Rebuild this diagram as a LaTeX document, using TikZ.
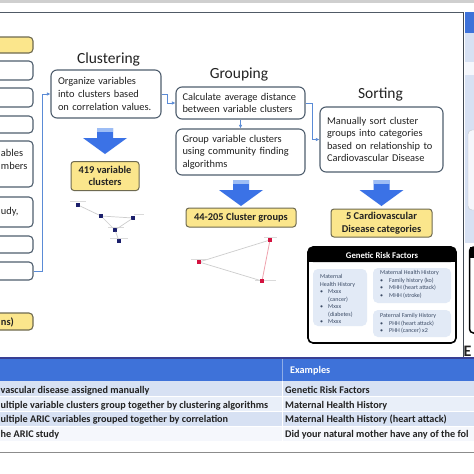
\documentclass[tikz,border=0pt]{standalone}
\usepackage{fontspec}
\setmainfont{Carlito}
\usetikzlibrary{arrows.meta}
\definecolor{boxline}{HTML}{4F5E6E}
\definecolor{yel}{HTML}{FBE68C}
\definecolor{yelline}{HTML}{6E6A50}
\definecolor{connc}{HTML}{5A8BD6}
\definecolor{barrow}{HTML}{3B72E6}
\definecolor{barrowtop}{HTML}{9DBDF5}
\definecolor{hdr}{HTML}{3E72D9}
\definecolor{hdrdiv}{HTML}{8FADE6}
\definecolor{rowa}{HTML}{D7E1F3}
\definecolor{rowb}{HTML}{E9EFF9}
\definecolor{rowc}{HTML}{F5F7FC}
\definecolor{innerb}{HTML}{E2EAF6}
\definecolor{innertext}{HTML}{3A4A64}
\definecolor{netline}{HTML}{CDCDCD}
\definecolor{netlabel}{HTML}{DADADA}
\definecolor{navy}{HTML}{1B1F6B}
\definecolor{reddot}{HTML}{D3123F}
\definecolor{pinkline}{HTML}{EFA3AE}
\definecolor{framec}{HTML}{505A66}
\definecolor{topgray}{HTML}{CFCFCF}
\definecolor{txt}{HTML}{222222}
\newcommand\bodyfont{\fontsize{10.4}{12.6}\selectfont}
\newcommand\ybfont{\bfseries\fontsize{10.4}{12.6}\selectfont}
\newcommand\titlefont{\fontsize{15.5}{18}\selectfont}
\newcommand\tabfont{\bfseries\fontsize{10.2}{12}\selectfont}
\newcommand\tinyfont{\fontsize{6}{7.5}\selectfont}
\begin{document}
\begin{tikzpicture}[x=1pt,y=-1pt,
  box/.style={draw=boxline,line width=1.1pt,rounded corners=6pt,fill=white,inner ysep=0pt,align=left,font=\bodyfont,text=txt},
  lbox/.style={draw=boxline,line width=1.1pt,rounded corners=4pt,fill=white,inner sep=0pt,minimum width=63pt},
  ybox/.style={draw=yelline,line width=1pt,rounded corners=3pt,fill=yel,align=center,inner sep=0pt,font=\ybfont,text=txt},
  conn/.style={draw=connc,line width=0.9pt,-{Latex[length=3.5pt,width=3.5pt]}},
  title/.style={font=\titlefont,anchor=base,inner sep=0pt,text=txt},
  cut/.style={font=\bodyfont,anchor=base west,inner sep=0pt,text=txt},
  tabtxt/.style={font=\tabfont,anchor=base west,inner sep=0pt,text=txt},
  navydot/.style={rectangle,fill=navy,minimum size=3.3pt,inner sep=0pt},
  reddotst/.style={rectangle,fill=reddot,minimum size=3.8pt,inner sep=0pt},
  netedge/.style={draw=netline,line width=0.7pt},
  netlab/.style={draw=netlabel,line width=0.8pt},
  innertxt/.style={font=\tinyfont,text=innertext,align=left,anchor=north west,inner sep=0pt},
  bigarr/.pic={
    \fill[barrow] (-8,0) -- (8,0) -- (8,10) -- (22,10) -- (0,26) -- (-22,10) -- (-8,10) -- cycle;
    \fill[barrowtop] (-8,0) rectangle (8,3.5);
  }]
\useasboundingbox (0,0) rectangle (474,474);
\clip (0,0) rectangle (474,474);
\fill[white] (0,0) rectangle (474,474);
% top band and frame
\fill[topgray] (0,0) rectangle (474,3);
\draw[framec,line width=1pt] (0,12) -- (463,12);

% left column boxes (cropped)
\node[lbox,fill=yel,draw=yelline,minimum height=16pt] (l1) at (1.5,45) {};
\node[lbox,minimum height=19pt] (l2) at (1.5,70.5) {};
\node[lbox,minimum height=19pt] (l3) at (1.5,97.5) {};
\node[lbox,minimum height=17pt] (l4) at (1.5,124.5) {};
\node[lbox,minimum height=46pt] (l5) at (1.5,164) {};
\node[lbox,minimum height=30pt] (l6) at (1.5,212) {};
\node[lbox,minimum height=17pt] (l7) at (1.5,244.5) {};
\node[lbox,minimum height=18pt] (l8) at (1.5,271) {};
\node[lbox,fill=yel,draw=yelline,minimum height=17pt] (l9) at (1.5,321.5) {};
\node[cut] (t5a) at (0.8,156) {ables};
\node[cut] (t5b) at (0.8,169) {mbers};
\node[cut] (t6) at (0.8,214) {udy,};
\node[cut,font=\ybfont] (t9) at (0.8,325.5) {ns)};

% titles
\node[title] (tclus) at (108.5,63) {Clustering};
\node[title] (tgroup) at (239,78) {Grouping};
\node[title] (tsort) at (380.5,98) {Sorting};

% process boxes
\node[box,text width=96pt,inner xsep=7pt,minimum height=48pt] (clus) at (106,94)
  {Organize variables\\into clusters based\\on correlation values.};
\node[box,text width=116pt,inner xsep=6.5pt,minimum height=32pt] (calc) at (240.5,103)
  {Calculate average distance\\between variable clusters};
\node[box,text width=116pt,inner xsep=6.5pt,minimum height=46pt] (group) at (240.5,152)
  {Group variable clusters\\using community finding\\algorithms};
\node[box,text width=109pt,inner xsep=7pt,minimum height=65pt] (sort) at (381.5,139.5)
  {Manually sort cluster\\groups into categories\\based on relationship to\\Cardiovascular Disease};

% connectors
\draw[conn] (l8.east) -- ++(9,0) |- (clus.west);
\draw[conn] (clus.east) -- ++(6,0) |- (calc.west);
\draw[conn] (calc.south) -- (group.north);
\draw[conn] (calc.east) -- ++(7,0) |- (sort.west);

% big arrows
\pic at (105,128) {bigarr};
\pic at (241,180) {bigarr};
\pic at (381.5,180) {bigarr};

% result boxes
\node[ybox,minimum width=68pt,minimum height=29pt] (y1) at (105,176) {419 variable\\clusters};
\node[ybox,minimum width=110pt,minimum height=19pt] (y2) at (241,217.5) {44-205 Cluster groups};
\node[ybox,minimum width=101pt,minimum height=28pt] (y3) at (381.5,223) {5 Cardiovascular\\Disease categories};

% clustering network
\draw[netlab] (70,201) -- (86,201);
\draw[netlab] (134,214.5) -- (144,214.5);
\draw[netlab] (108,227) -- (124,227);
\draw[netlab] (110,238.5) -- (128,238.5);
\node[navydot] (c1) at (78,205) {};
\node[navydot] (c2) at (101,216) {};
\node[navydot] (c3) at (133,218) {};
\node[navydot] (c4) at (115,230) {};
\node[navydot] (c5) at (119,241) {};
\draw[netedge] (c1) -- (c2);
\draw[netedge] (c2) -- (c3);
\draw[netedge] (c2) -- (c4);
\draw[netedge] (c3) -- (c4);
\draw[netedge] (c4) -- (c5);

% grouping network
\draw[netlab] (264,237.5) -- (277,237.5);
\draw[netlab] (191,259.5) -- (206,259.5);
\draw[netlab] (255,280) -- (276,280);
\node[reddotst] (r1) at (270,240) {};
\node[reddotst] (r2) at (199,262) {};
\node[reddotst] (r3) at (262,281) {};
\draw[netedge] (r2) -- (r1);
\draw[netedge] (r2) -- (r3);
\draw[draw=pinkline,line width=0.8pt] (r1) -- (r3);

% Genetic Risk Factors panel
\draw[black,line width=1.6pt,fill=white,rounded corners=5pt] (308,247) rectangle (456,343);
\fill[black,rounded corners=5pt] (308,247) rectangle (456,262);
\fill[black] (308,255) rectangle (456,262);
\node[font=\bfseries\fontsize{8.7}{10}\selectfont,text=white,inner sep=0pt] (grft) at (382,255) {Genetic Risk Factors};
\fill[innerb,rounded corners=5pt] (313,269) rectangle (367,326);
\fill[innerb,rounded corners=5pt] (373,268) rectangle (451,303);
\fill[innerb,rounded corners=5pt] (373,310) rectangle (451,337);
\node[innertxt] (ia) at (320,274.5) {Maternal\\Health History\\\textbullet\hspace{5pt}Mxxx\\\hphantom{\textbullet\hspace{5pt}}(cancer)\\\textbullet\hspace{5pt}Mxxx\\\hphantom{\textbullet\hspace{5pt}}(diabetes)\\\textbullet\hspace{5pt}Mxxx};
\node[innertxt] (ib) at (380,270.5) {Maternal Health History\\\textbullet\hspace{6pt}Family history (ko)\\\textbullet\hspace{6pt}MHH (heart attack)\\\textbullet\hspace{6pt}MHH (stroke)};
\node[innertxt] (ic) at (380,313.5) {Paternal Family History\\\textbullet\hspace{6pt}PHH (heart attack)\\\textbullet\hspace{6pt}PHH (cancer) x2};

% right strip (cropped panel)
\fill[hdr] (465,12) rectangle (474,33);
\fill[rowa] (465,33) rectangle (474,243);
\fill[rowc] (465,62) rectangle (474,75);
\draw[fill=rowc,draw=boxline!35,rounded corners=4pt] (468,130) rectangle (484,210);
\draw[black,line width=1.5pt,fill=white,rounded corners=4pt] (469.5,247) rectangle (484,333);
\fill[black] (469.5,247) rectangle (484,258);
\node[font=\bfseries\fontsize{16}{18}\selectfont,anchor=base west,inner sep=0pt,text=txt] (bigE) at (463.5,356) {E};
\draw[framec!80!black,line width=1.3pt] (463.5,12) -- (463.5,358);
\draw[framec!70!blue,line width=1.5pt] (0,358) -- (474,358);

% table
\fill[hdr] (0,359) rectangle (474,381);
\draw[hdrdiv,line width=1pt] (282.5,359) -- (282.5,381);
\node[tabtxt,text=white] (hex) at (290,373.5) {Examples};
\fill[rowa] (0,381) rectangle (474,396.5);
\fill[rowb] (0,396.5) rectangle (474,411.5);
\fill[rowa] (0,411.5) rectangle (474,426);
\fill[rowc] (0,426) rectangle (474,441);
\draw[white,line width=0.8pt] (0,396.5) -- (474,396.5) (0,411.5) -- (474,411.5) (0,426) -- (474,426);
\draw[white,line width=1.2pt] (282.5,381) -- (282.5,441);
\node[tabtxt] (a1) at (0.5,393.5) {vascular disease assigned manually};
\node[tabtxt] (a2) at (0.5,408) {ultiple variable clusters group together by clustering algorithms};
\node[tabtxt] (a3) at (0.5,422.5) {ultiple ARIC variables grouped together by correlation};
\node[tabtxt] (a4) at (0.5,437) {he ARIC study};
\node[tabtxt] (b1) at (285,393.5) {Genetic Risk Factors};
\node[tabtxt] (b2) at (285,408) {Maternal Health History};
\node[tabtxt] (b3) at (285,422.5) {Maternal Health History (heart attack)};
\node[tabtxt] (b4) at (285,437) {Did your natural mother have any of the fol};
\draw[black!45,line width=1pt] (0,452) -- (474,452);
\end{tikzpicture}
\end{document}
